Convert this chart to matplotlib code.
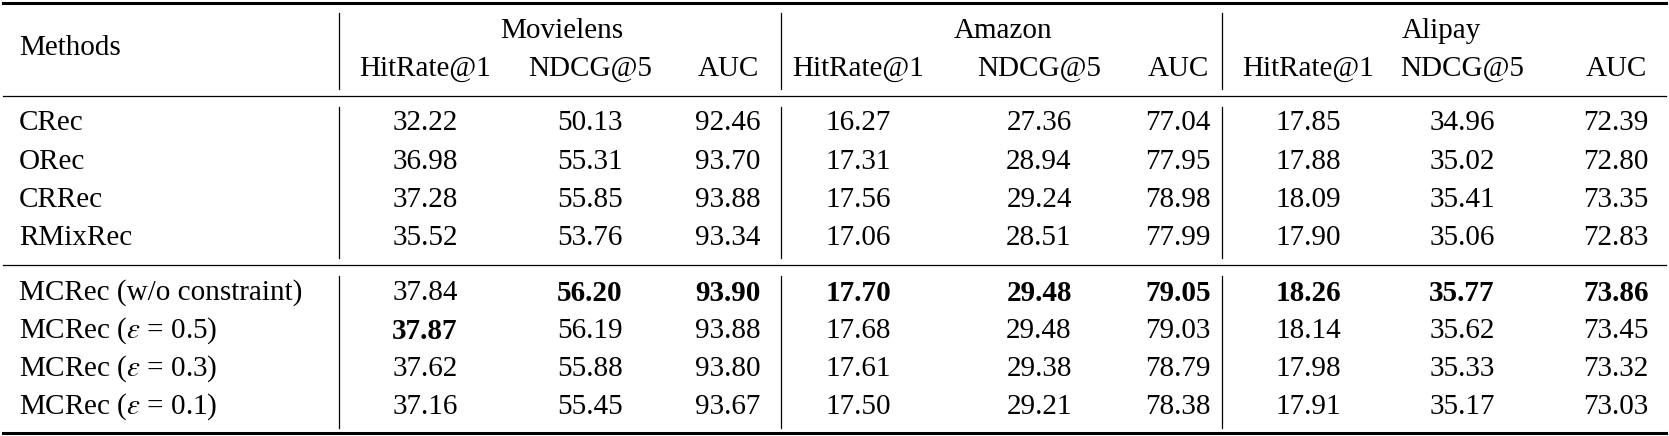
import matplotlib
matplotlib.use("Agg")
import matplotlib.pyplot as plt

plt.rcParams['font.family'] = ['Liberation Serif', 'DejaVu Serif']
plt.rcParams['mathtext.fontset'] = 'stix'

datasets = ["Movielens", "Amazon", "Alipay"]
metrics = ["HitRate@1", "NDCG@5", "AUC"]
methods_top = ["CRec", "ORec", "CRRec", "RMixRec"]
methods_bot = ["MCRec (w/o constraint)", r"MCRec ($\epsilon$ = 0.5)",
               r"MCRec ($\epsilon$ = 0.3)", r"MCRec ($\epsilon$ = 0.1)"]
vals_top = [
    ["32.22", "50.13", "92.46", "16.27", "27.36", "77.04", "17.85", "34.96", "72.39"],
    ["36.98", "55.31", "93.70", "17.31", "28.94", "77.95", "17.88", "35.02", "72.80"],
    ["37.28", "55.85", "93.88", "17.56", "29.24", "78.98", "18.09", "35.41", "73.35"],
    ["35.52", "53.76", "93.34", "17.06", "28.51", "77.99", "17.90", "35.06", "72.83"],
]
vals_bot = [
    ["37.84", "56.20", "93.90", "17.70", "29.48", "79.05", "18.26", "35.77", "73.86"],
    ["37.87", "56.19", "93.88", "17.68", "29.48", "79.03", "18.14", "35.62", "73.45"],
    ["37.62", "55.88", "93.80", "17.61", "29.38", "78.79", "17.98", "35.33", "73.32"],
    ["37.16", "55.45", "93.67", "17.50", "29.21", "78.38", "17.91", "35.17", "73.03"],
]
bold_bot = [
    [0, 1, 1, 1, 1, 1, 1, 1, 1],
    [1, 0, 0, 0, 0, 0, 0, 0, 0],
    [0, 0, 0, 0, 0, 0, 0, 0, 0],
    [0, 0, 0, 0, 0, 0, 0, 0, 0],
]

W, H = 1669, 436
fig = plt.figure(figsize=(W/100, H/100), dpi=100)
ax = fig.add_axes([0, 0, 1, 1])
ax.set_xlim(0, W); ax.set_ylim(H, 0); ax.axis('off')

fs = 21
col_x = [425, 590, 728, 858, 1039, 1178, 1308, 1462, 1616]
title_x = [562, 1003, 1441]
vlines = [339, 781, 1222]
left = 19

ax.plot([3, 1666], [3, 3], color='black', lw=2.2)
ax.plot([3, 1666], [96, 96], color='black', lw=0.9)
ax.plot([3, 1666], [265, 265], color='black', lw=0.9)
ax.plot([3, 1666], [433, 433], color='black', lw=2.2)
for vx in vlines:
    for y0, y1 in [(13, 89), (107, 258), (276, 428)]:
        ax.plot([vx, vx], [y0, y1], color='black', lw=0.9)

ax.text(left, 48, "Methods", fontsize=fs, va='center', ha='left')
for t, x in zip(datasets, title_x):
    ax.text(x, 31, t, fontsize=fs, va='center', ha='center')
for i, x in enumerate(col_x):
    ax.text(x, 69, metrics[i % 3], fontsize=fs, va='center', ha='center')

ys_top = [123, 162, 200, 238]
ys_bot = [293, 331, 369, 407]
for m, row, y in zip(methods_top, vals_top, ys_top):
    ax.text(left, y, m, fontsize=fs, va='center', ha='left')
    for v, x in zip(row, col_x):
        ax.text(x, y, v, fontsize=fs, va='center', ha='center')
for m, row, b, y in zip(methods_bot, vals_bot, bold_bot, ys_bot):
    ax.text(left, y, m, fontsize=fs, va='center', ha='left')
    for v, x, bb in zip(row, col_x, b):
        ax.text(x, y, v, fontsize=fs, va='center', ha='center',
                fontweight='bold' if bb else 'normal')

fig.savefig("out.png", dpi=100)
